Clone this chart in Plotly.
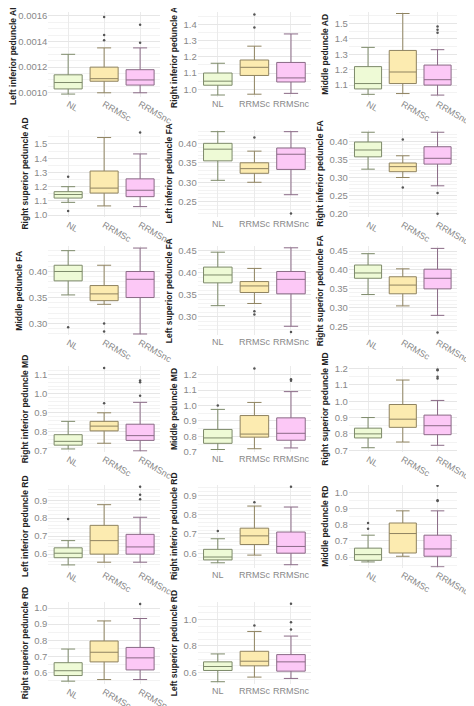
import plotly.graph_objects as go

groups = ["NL", "RRMSc", "RRMSnc"]
titles = ["Left inferior peduncle AD", "Right inferior peduncle AD", "Middle peduncle AD",
          "Right superior peduncle AD", "Left inferior peduncle FA", "Right inferior peduncle FA",
          "Middle peduncle FA", "Left superior peduncle FA", "Right superior peduncle FA",
          "Right inferior peduncle MD", "Middle peduncle MD", "Right superior peduncle MD",
          "Left inferior peduncle RD", "Right inferior peduncle RD", "Middle peduncle RD",
          "Right superior peduncle RD", "Left superior peduncle RD"]
# per panel: stats per group = (lowerfence, q1, median, q3, upperfence, outliers)
stats = [
    [(.00099,.00103,.00108,.00114,.00130,[]),(.00100,.00109,.00111,.00120,.00135,[.00141,.00145,.00159]),(.00100,.00106,.00110,.00118,.00135,[.00139,.00153])],
    [(.965,1.025,1.05,1.10,1.16,[]),(.97,1.085,1.135,1.18,1.265,[1.38,1.46]),(.975,1.045,1.07,1.165,1.34,[])],
    [(1.04,1.075,1.11,1.22,1.345,[]),(1.045,1.11,1.185,1.325,1.565,[]),(1.035,1.10,1.135,1.23,1.33,[1.44,1.46,1.48])],
    [(1.09,1.12,1.145,1.165,1.2,[1.03,1.27]),(1.065,1.155,1.19,1.31,1.545,[]),(1.06,1.13,1.175,1.255,1.43,[1.58])],
    [(.305,.355,.385,.40,.43,[]),(.30,.323,.335,.35,.38,[.415]),(.268,.333,.372,.388,.43,[.22])],
    [(.323,.357,.376,.398,.425,[]),(.30,.316,.33,.34,.36,[.272,.405]),(.277,.337,.353,.385,.425,[.257,.20])],
    [(.355,.382,.40,.412,.44,[.293]),(.337,.344,.357,.373,.412,[.30,.285]),(.28,.35,.385,.40,.445,[])],
    [(.325,.377,.395,.413,.447,[]),(.33,.355,.37,.38,.41,[.305,.312]),(.278,.352,.385,.403,.457,[.265])],
    [(.335,.378,.392,.413,.443,[]),(.305,.337,.36,.382,.403,[]),(.28,.35,.378,.402,.457,[.235])],
    [(.71,.73,.75,.785,.855,[]),(.74,.805,.83,.855,.90,[.95,1.135]),(.70,.755,.78,.84,.955,[.99,1.06,1.07])],
    [(.715,.755,.79,.845,.975,[1.0]),(.72,.795,.815,.935,1.02,[1.24]),(.725,.775,.82,.92,1.09,[1.16,1.17])],
    [(.715,.775,.80,.835,.90,[]),(.75,.84,.89,.98,1.13,[]),(.73,.795,.85,.915,1.005,[1.14,1.15,1.19,1.195])],
    [(.54,.58,.605,.635,.675,[.795]),(.555,.60,.675,.76,.875,[]),(.555,.60,.64,.71,.805,[.905,.93,.975])],
    [(.55,.565,.58,.62,.675,[.715]),(.59,.645,.69,.73,.845,[.865]),(.54,.60,.635,.71,.84,[.945])],
    [(.57,.58,.615,.655,.735,[.775,.81]),(.605,.625,.745,.81,.885,[]),(.54,.605,.65,.735,.885,[.945,.95,1.04])],
    [(.545,.58,.61,.66,.745,[]),(.555,.665,.725,.795,.92,[]),(.555,.615,.69,.755,.935,[1.025])],
    [(.53,.615,.645,.68,.74,[]),(.565,.65,.685,.76,.91,[.955]),(.555,.61,.68,.735,.875,[.925,.98,1.12])],
]
yranges = [(.00097,.00163),(.955,1.475),(1.025,1.575),(.985,1.6),(.21,.435),(.19,.432),(.278,.448),(.258,.46),(.228,.462),
           (.695,1.145),(.7,1.255),(.69,1.215),(.525,.985),(.525,.955),(.535,1.045),(.525,1.04),(.51,1.135)]
yticks = [[.0010,.0012,.0014,.0016],[1.0,1.1,1.2,1.3,1.4],[1.1,1.2,1.3,1.4,1.5],[1.0,1.1,1.2,1.3,1.4,1.5],
          [.25,.30,.35,.40],[.20,.25,.30,.35,.40],[.30,.35,.40],[.30,.35,.40,.45],[.25,.30,.35,.40,.45],
          [.7,.8,.9,1.0,1.1],[.7,.8,.9,1.0,1.1,1.2],[.7,.8,.9,1.0,1.1,1.2],[.6,.7,.8,.9],[.6,.7,.8,.9],
          [.6,.7,.8,.9,1.0],[.6,.7,.8,.9,1.0],[.6,.8,1.0]]
tickfmt = [".4f"] + [".1f"]*3 + [".2f"]*5 + [".1f"]*8

fills = ["#eefad6", "#fcebb0", "#fcc8f6"]
lines = ["#7d8a6a", "#8f8360", "#8a6a86"]

W, H = 474, 706
rows_px = [(1, 88), (122, 212), (242, 333), (365, 453), (487, 572), (607, 692)]
cols_px = [(30, 148), (188, 308), (348, 462)]

fig = go.Figure()
layout = {}
for i in range(17):
    r, c = divmod(i, 3)
    n = "" if i == 0 else str(i + 1)
    xa, ya = "x" + n, "y" + n
    for g in range(3):
        lf, q1, md, q3, uf, outs = stats[i][g]
        fig.add_trace(go.Box(x=[groups[g]], q1=[q1], median=[md], q3=[q3], lowerfence=[lf], upperfence=[uf],
                             fillcolor=fills[g], line=dict(color=lines[g], width=1), width=0.78,
                             boxpoints=False, showlegend=False, xaxis=xa, yaxis=ya, hoverinfo="skip"))
        if outs:
            fig.add_trace(go.Scatter(x=[groups[g]]*len(outs), y=outs, mode="markers",
                                     marker=dict(size=2.5, color="#555555"), showlegend=False,
                                     xaxis=xa, yaxis=ya, hoverinfo="skip"))
    y0, y1 = rows_px[r]; x0, x1 = cols_px[c]
    layout["xaxis" + n] = dict(domain=[x0 / W, x1 / W], anchor=ya, type="category",
                               categoryorder="array", categoryarray=groups, range=[-0.55, 2.55],
                               showgrid=True, gridcolor="#ebebeb", zeroline=False, showline=False,
                               tickfont=dict(size=9, color="#888888", family="Liberation Sans"), ticks="")
    layout["yaxis" + n] = dict(domain=[1 - y1 / H, 1 - y0 / H], anchor=xa, range=list(yranges[i]),
                               tickvals=yticks[i], tickformat=tickfmt[i],
                               showgrid=True, gridcolor="#e6e6e6", zeroline=False, showline=False,
                               minor=dict(showgrid=True, gridcolor="#f3f3f3"),
                               tickfont=dict(size=9.5, color="#888888", family="Liberation Sans"), ticks="",
                               title=dict(text="<b>" + titles[i] + "</b>", standoff=4,
                                          font=dict(size=8.5, color="#222222", family="Liberation Sans")))

fig.update_layout(width=W, height=H, margin=dict(l=0, r=0, t=0, b=0),
                  plot_bgcolor="white", paper_bgcolor="white", **layout)
fig.write_html("out.html")
